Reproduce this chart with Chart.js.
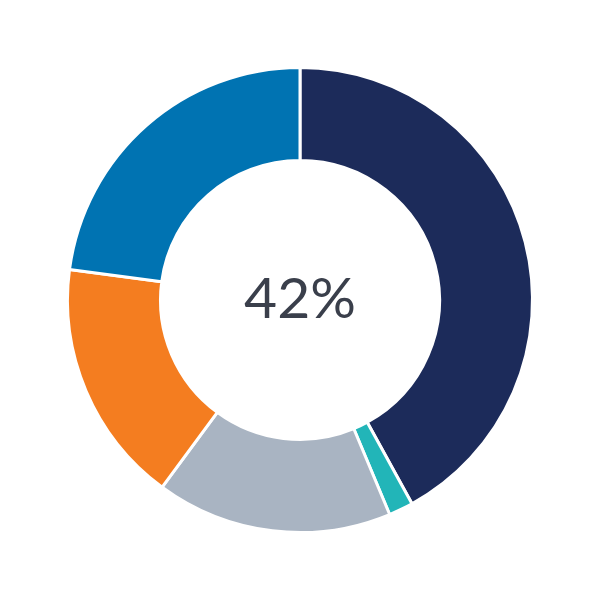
<!DOCTYPE html>
<html lang="en">
<head>
  <meta charset="UTF-8">
  <title>Doughnut</title>
  <script src="https://cdn.jsdelivr.net/npm/chart.js"></script>
  <style>
    html, body { margin: 0; padding: 0; background: #fff; }
    #wrap { width: 600px; height: 600px; }
  </style>
</head>
<body>
  <div id="wrap"><canvas id="donut" width="600" height="600"></canvas></div>
  <script>
    const labels = ['Segment A', 'Segment B', 'Segment C', 'Segment D', 'Segment E'];
    const values = [42, 1.7, 16.4, 17, 22.9];
    const colors = ['#1c2b5a', '#22b5b8', '#a9b4c2', '#f47d20', '#0073b2'];
    const centerLabel = '42%';

    // center text
    const centerText = {
      id: 'centerText',
      afterDraw(chart) {
        const meta = chart.getDatasetMeta(0).data[0];
        const ctx = chart.ctx;
        ctx.save();
        ctx.font = '400 57px Lato, "Open Sans", sans-serif';
        ctx.fillStyle = '#3a3f4b';
        ctx.textAlign = 'center';
        ctx.textBaseline = 'middle';
        ctx.fillText(centerLabel, meta.x, meta.y);
        ctx.restore();
      }
    };

    new Chart(document.getElementById('donut').getContext('2d'), {
      type: 'doughnut',
      data: {
        labels: labels,
        datasets: [{
          data: values,
          backgroundColor: colors,
          borderColor: '#fff',
          borderWidth: 3
        }]
      },
      options: {
        responsive: false,
        animation: false,
        cutout: '60%',
        layout: { padding: 66 },
        plugins: {
          legend: { display: false },
          tooltip: { enabled: false }
        }
      },
      plugins: [centerText]
    });
  </script>
</body>
</html>
